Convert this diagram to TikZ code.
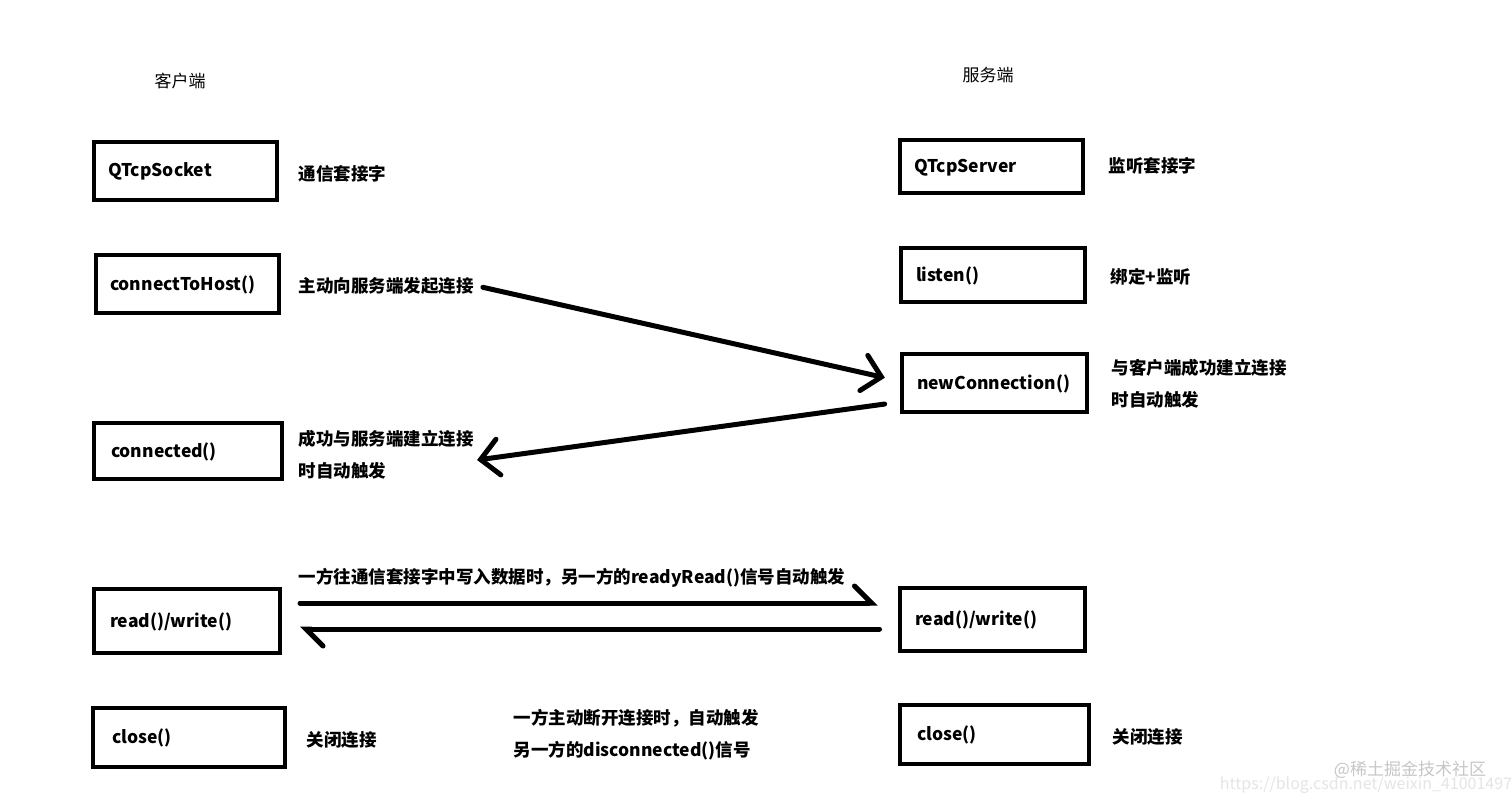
\documentclass[tikz,border=0pt]{standalone}
\usepackage{fontspec}
\setmainfont{Noto Sans CJK SC}
\usetikzlibrary{arrows.meta}

\tikzset{
  box/.style 2 args={draw, line width=4pt, minimum width=#1, minimum height=#2,
    text width=154pt, align=left, text depth=2pt, font=\bfseries\fontsize{17.5pt}{20pt}\selectfont},
  note/.style={anchor=west, align=left, font=\bfseries\fontsize{17.5pt}{32pt}\selectfont},
  side/.style={font=\fontsize{17pt}{20pt}\selectfont},
  link/.style={line width=5pt, line cap=round,
    -{Straight Barb[length=18pt, width=36pt, line cap=round]}},
  half/.style={line width=5pt, line cap=round,
    -{Straight Barb[harpoon, length=17pt, width=34pt, line cap=round]}},
  mark/.style 2 args={text=black!#1, font=\fontsize{#2}{#2}\selectfont}
}

\begin{document}
\begin{tikzpicture}[x=1pt, y=-1pt]
  \useasboundingbox[fill=white] (0, 0) rectangle (1512, 802);

  % client side
  \path (180, 81) node[side](client) {客户端}
    (185, 171) node[box={183pt}{58pt}](sock) {QTcpSocket}
    (187, 284) node[box={183pt}{58pt}](conn) {connectToHost()}
    (188, 451) node[box={188pt}{56pt}](cted) {connected()}
    (187, 621) node[box={186pt}{64pt}](rwc) {read()/write()}
    (189, 737) node[box={192pt}{59pt}](clc) {close()};
  \path (295, 174) node[note](sock-note) {通信套接字}
    (295, 286) node[note](conn-note) {主动向服务端发起连接}
    (295, 455) node[note](cted-note) {成功与服务端建立连接\\时自动触发}
    (303, 740) node[note](clc-note) {关闭连接};

  % server side
  \path (988, 75) node[side](server) {服务端}
    (991, 167) node[box={183pt}{53pt}](srv) {QTcpServer}
    (993, 275) node[box={184pt}{54pt}](lsn) {listen()}
    (994, 383) node[box={185pt}{58pt}](newc) {newConnection()}
    (992, 619) node[box={185pt}{63pt}](rws) {read()/write()}
    (994, 734) node[box={189pt}{59pt}](cls) {close()};
  \path (1105, 166) node[note](srv-note) {监听套接字}
    (1107, 277) node[note](lsn-note) {绑定+监听}
    (1108, 384) node[note](newc-note) {与客户端成功建立连接\\时自动触发}
    (1109, 737) node[note](cls-note) {关闭连接};

  % messages in between
  \path (295, 578) node[note](ready) {一方往通信套接字中写入数据时，另一方的readyRead()信号自动触发}
    (510, 735) node[note](disc) {一方主动断开连接时，自动触发\\另一方的disconnected()信号};

  \draw[link, shorten <=6pt, shorten >=15pt] (conn-note.east) -- ([yshift=2pt]newc.west);
  \draw[link, shorten <=15pt] ([yshift=-19pt]newc.west) -- ([yshift=-5pt]cted-note.east);
  \draw[half, shorten <=18pt, shorten >=20pt] ([yshift=18pt]rwc.east) -- ([yshift=16pt]rws.west);
  \draw[half, shorten <=18pt, shorten >=18pt] ([yshift=-10pt]rws.west) -- ([yshift=-8pt]rwc.east);

  % watermark
  \path (1410, 770) node[mark={22}{17pt}](wm) {@稀土掘金技术社区}
    (1366, 785) node[mark={10}{16pt}](url) {https://blog.csdn.net/weixin\_41001497};
\end{tikzpicture}
\end{document}
